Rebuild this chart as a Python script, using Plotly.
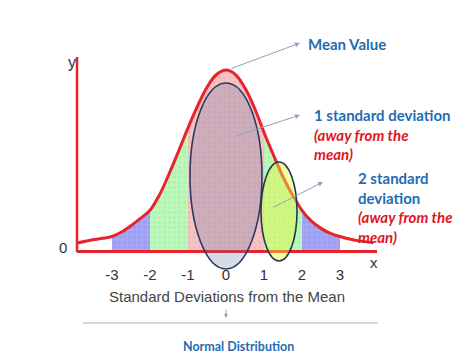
import plotly.graph_objects as go

# ---- data ----
curve_x = [-3.92, -3.5, -3.25, -3, -2.75, -2.5, -2.25, -2, -1.75, -1.5, -1.25, -1, -0.75, -0.5, -0.25,
           0, 0.25, 0.5, 0.75, 1, 1.25, 1.5, 1.75, 2, 2.25, 2.5, 2.75, 3, 3.25, 3.5, 3.87]
curve_y = [0.044, 0.062, 0.070, 0.080, 0.105, 0.140, 0.180, 0.225, 0.310, 0.425, 0.550, 0.680, 0.800, 0.905, 0.975,
           1.000, 0.975, 0.900, 0.790, 0.655, 0.530, 0.410, 0.310, 0.225, 0.165, 0.125, 0.097, 0.080, 0.066, 0.056, 0.046]

band_bounds = [(-3, -2), (-2, -1), (-1, 1), (1, 2), (2, 3)]
band_names = ["2-3 SD", "1-2 SD", "within 1 SD", "1-2 SD", "2-3 SD"]

tick_vals = [-3, -2, -1, 0, 1, 2, 3]
tick_text = ["-3", "-2", "-1", "0", "1", "2", "3"]

# ---- styles ----
RED = "#e8232b"
BLUE_TXT = "#1f6db3"
RED_TXT = "#e0161e"
band_styles = {
    "2-3 SD": ("#a6a6f6", "#8d8de6"),
    "1-2 SD": ("#bcf7bc", "#a3e6a3"),
    "within 1 SD": ("#f6c3c3", "#e6abb3"),
}

W, H = 474, 355
X0PX, X1PX, ZEROPX, UNIT = 77, 377, 226, 38.0
AXIS_PY, PEAK_PY = 251, 70
YUNIT = AXIS_PY - PEAK_PY


def xd(px):
    return (px - ZEROPX) / UNIT


def yd(py):
    return (AXIS_PY - py) / YUNIT


fig = go.Figure()

for (lo, hi), name in zip(band_bounds, band_names):
    sx = [x for x in curve_x if lo <= x <= hi]
    sy = [y for x, y in zip(curve_x, curve_y) if lo <= x <= hi]
    bg, fg = band_styles[name]
    fig.add_trace(go.Scatter(
        x=sx, y=sy, mode="lines", line=dict(width=0, shape="spline", smoothing=1),
        fill="tozeroy", fillcolor=bg,
        fillpattern=dict(shape=".", bgcolor=bg, fgcolor=fg, size=5, solidity=0.25),
        hoverinfo="skip", showlegend=False, name=name))

fig.add_trace(go.Scatter(
    x=curve_x, y=curve_y, mode="lines",
    line=dict(color=RED, width=3, shape="spline", smoothing=1),
    showlegend=False, hoverinfo="skip"))

# highlight ellipses
fig.add_shape(type="circle", xref="x", yref="y",
              x0=xd(190), x1=xd(262), y0=yd(269), y1=yd(83),
              line=dict(color="#263c63", width=1.6),
              fillcolor="rgba(90,112,165,0.25)", layer="above")
fig.add_shape(type="circle", xref="x", yref="y",
              x0=xd(261), x1=xd(297), y0=yd(261), y1=yd(162),
              line=dict(color="#1f3a4f", width=1.6),
              fillcolor="rgba(232,246,60,0.45)", layer="above")

# y axis line
fig.add_shape(type="line", xref="paper", yref="paper",
              x0=X0PX / W, x1=X0PX / W, y0=1 - AXIS_PY / H - 0.003, y1=1 - 57 / H,
              line=dict(color=RED, width=2.5))

# bottom separator line
fig.add_shape(type="line", xref="paper", yref="paper",
              x0=83 / W, x1=378 / W, y0=1 - 323 / H, y1=1 - 323 / H,
              line=dict(color="#9fb3c8", width=1))

lbl_font = dict(family="Liberation Sans, Arial", size=15, color="#333333")
ann = []
ann.append(dict(xref="paper", yref="paper", x=72 / W, y=1 - 63 / H, text="y", showarrow=False,
                xanchor="center", yanchor="middle", font=dict(lbl_font, size=16)))
ann.append(dict(xref="paper", yref="paper", x=63 / W, y=1 - 247 / H, text="0", showarrow=False,
                xanchor="center", yanchor="middle", font=lbl_font))
ann.append(dict(xref="paper", yref="paper", x=374 / W, y=1 - 262 / H, text="x", showarrow=False,
                xanchor="center", yanchor="middle", font=lbl_font))

# arrows (head at text end)
arrow_style = dict(showarrow=True, arrowhead=2, arrowsize=1, arrowwidth=1, arrowcolor="#8da2bd",
                   xref="x", yref="y", axref="x", ayref="y", text="")
ann.append(dict(x=xd(300), y=yd(43), ax=xd(230), ay=yd(69), **arrow_style))
ann.append(dict(x=xd(300), y=yd(115), ax=xd(233), ay=yd(137), **arrow_style))
ann.append(dict(x=xd(323), y=yd(182), ax=xd(272), ay=yd(208), **arrow_style))

txt_font = dict(family="Lato, Open Sans, sans-serif", size=15, color=BLUE_TXT)
ann.append(dict(xref="paper", yref="paper", x=306 / W, y=1 - 44 / H, xanchor="left", yanchor="middle",
                text="<b>Mean Value</b>", showarrow=False, font=txt_font))
ann.append(dict(xref="paper", yref="paper", x=312 / W, y=1 - 104 / H, xanchor="left", yanchor="top",
                align="left", showarrow=False, font=txt_font,
                text=("<b>1 standard deviation</b><br>"
                      f"<span style='color:{RED_TXT}'><b><i>(away from the</i></b></span><br>"
                      f"<span style='color:{RED_TXT}'><b><i>mean)</i></b></span>")))
ann.append(dict(xref="paper", yref="paper", x=356 / W, y=1 - 167 / H, xanchor="left", yanchor="top",
                align="left", showarrow=False, font=txt_font,
                text=("<b>2 standard</b><br><b>deviation</b><br>"
                      f"<span style='color:{RED_TXT}'><b><i>(away from the</i></b></span><br>"
                      f"<span style='color:{RED_TXT}'><b><i>mean)</i></b></span>")))

# little down arrow under axis title
ann.append(dict(xref="paper", yref="paper", x=226 / W, y=1 - 318 / H, ax=0, ay=-10,
                showarrow=True, arrowhead=2, arrowsize=0.8, arrowwidth=1, arrowcolor="#8da2bd", text=""))

ann.append(dict(xref="paper", yref="paper", x=238 / W, y=1 - 346 / H, text="<b>Normal Distribution</b>",
                xanchor="center", yanchor="middle", showarrow=False,
                font=dict(family="Lato, Open Sans, sans-serif", size=12.5, color=BLUE_TXT)))

fig.update_layout(
    width=W, height=H, margin=dict(l=0, r=0, t=0, b=0),
    paper_bgcolor="white", plot_bgcolor="white",
    annotations=ann,
    xaxis=dict(domain=[X0PX / W, X1PX / W], range=[xd(X0PX), xd(X1PX)],
               anchor="free", position=1 - AXIS_PY / H,
               showline=True, linecolor=RED, linewidth=2.5,
               tickvals=tick_vals, ticktext=tick_text, ticks="", showgrid=False, zeroline=False,
               ticklabelstandoff=9,
               tickfont=lbl_font,
               title=dict(text="Standard Deviations from the Mean", standoff=9,
                          font=dict(family="Liberation Sans, Arial", size=15, color="#444444"))),
    yaxis=dict(domain=[0, 1], range=[yd(H), yd(0)], visible=False),
)

fig.write_html("out.html", config={"displayModeBar": False, "staticPlot": True},
               post_script="document.body.style.margin='0px';document.body.style.overflow='hidden';")
